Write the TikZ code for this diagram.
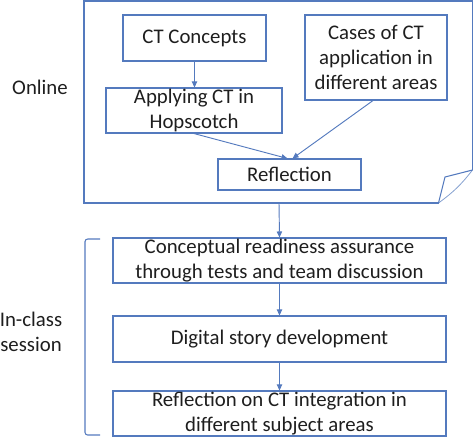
\documentclass[tikz,border=0pt]{standalone}
\usepackage{fontspec}
\setmainfont{Carlito}
\usetikzlibrary{arrows.meta}
\definecolor{bl}{RGB}{84,122,190}
\definecolor{tx}{RGB}{30,30,30}
\begin{document}
\begin{tikzpicture}[x=0.75pt,y=-0.75pt,
  box/.style={draw=bl,line width=0.8pt,inner sep=0pt,align=center,
    font=\fontsize{15.6}{18.75}\selectfont,text=tx},
  lbl/.style={inner sep=0pt,align=center,font=\fontsize{15.6}{18.75}\selectfont,text=tx},
  conn/.style={draw=bl,line width=0.7pt,-{Triangle[length=4.5pt,width=4pt]}},
  frame/.style={draw=bl,line width=0.8pt}]
\useasboundingbox (0,0) rectangle (474,437);
% online frame
\coordinate (f1) at (84,1);
\coordinate (f2) at (472.5,1);
\coordinate (f3) at (472.5,170);
\coordinate (f4) at (438.5,203);
\coordinate (f5) at (84,203);
\coordinate (ff) at (445,177);
\coordinate (fb) at (279,203);
\draw[frame,line join=miter] (f4) -- (f5) -- (f1) -- (f2) -- (f3);
\draw[draw=bl!70,line width=0.6pt] (f4) to[bend right=8] (f3);
\draw[frame,line join=miter] (f4) -- (ff) -- (f3);
% nodes
\node[box,minimum width=107.25pt,minimum height=34.5pt] (ctc) at (194.5,38) {CT Concepts};
\node[box,minimum width=106.5pt,minimum height=63.75pt] (cases) at (376,57.5) {Cases of CT\\application in\\different areas};
\node[box,minimum width=132pt,minimum height=33.75pt] (app) at (194,110.5) {Applying CT in\\Hopscotch};
\node[box,minimum width=107.25pt,minimum height=23.25pt] (refl) at (289.5,174.5) {Reflection};
\node[box,minimum width=249.75pt,minimum height=33.75pt] (conc) at (279.5,260.5) {Conceptual readiness assurance\\through tests and team discussion};
\node[box,minimum width=249.75pt,minimum height=34.5pt] (dig) at (279.5,339) {Digital story development};
\node[box,minimum width=249.75pt,minimum height=33.75pt] (rct) at (279.5,413.5) {Reflection on CT integration in\\different subject areas};
\node[lbl] (online) at (40,87) {Online};
\node[lbl] (inclass) at (31,332) {In-class\\session};
% connectors
\draw[conn] (ctc.south) -- (app.north -| ctc.south);
\draw[conn] (app.south) -- ([xshift=-1.5pt]refl.north);
\draw[conn] ([xshift=-2.25pt]cases.south) -- ([xshift=2.25pt]refl.north);
\draw[conn] (fb) -- (conc.north);
\draw[conn] (conc.south) -- (dig.north);
\draw[conn] (dig.south) -- (rct.north);
% bracket
\coordinate (b1) at (100,239);
\coordinate (b2) at (85,239);
\coordinate (b3) at (85,435);
\coordinate (b4) at (100,435);
\draw[frame,rounded corners=2pt] (b1) -- (b2) -- (b3) -- (b4);
\end{tikzpicture}
\end{document}
